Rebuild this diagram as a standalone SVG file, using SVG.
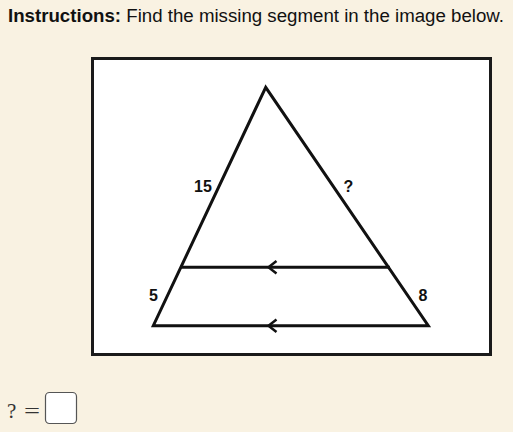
<svg xmlns="http://www.w3.org/2000/svg" width="513" height="432" viewBox="0 0 513 432">
<style>
.lbl{font-family:"Liberation Sans",Arial,sans-serif;font-weight:bold;font-size:16px;fill:#111;text-anchor:middle}
.ln{stroke:#111;stroke-width:3;fill:none;stroke-linecap:square}
.chev{stroke:#111;stroke-width:2.5;fill:none}
.mth{font-family:"Liberation Serif","Times New Roman",serif;fill:#333}
</style>
<rect width="513" height="432" fill="#f9f2e2"/>
<text x="8" y="22" font-family="'Liberation Sans',Arial,sans-serif" font-size="18" fill="#111" textLength="496" lengthAdjust="spacingAndGlyphs"><tspan font-weight="bold">Instructions:</tspan> Find the missing segment in the image below.</text>
<g id="frame">
<rect x="92.5" y="58.5" width="398" height="296" fill="#fff" stroke="#1a1a1a" stroke-width="3"/>
</g>
<g id="triangle">
<polygon points="265.7,87.3 153.3,325.7 428.3,325.7" class="ln" stroke-linejoin="miter"/>
</g>
<g id="connectors">
<line x1="181.7" y1="267.3" x2="388.3" y2="267.3" class="ln" stroke-linecap="butt"/>
<polyline points="276.5,261 268.5,267.3 276.5,273.6" class="chev"/>
<polyline points="276.5,319.4 268.5,325.7 276.5,332" class="chev"/>
</g>
<g id="labels">
<text class="lbl" x="203" y="192">15</text>
<text class="lbl" x="348.5" y="192">?</text>
<text class="lbl" x="153.5" y="300.5">5</text>
<text class="lbl" x="423" y="300.5">8</text>
</g>
<g id="answer">
<text class="mth" x="7" y="418" font-size="21">?</text>
<text class="mth" x="24" y="418" font-size="21" textLength="16" lengthAdjust="spacingAndGlyphs">=</text>
<rect x="45.5" y="392.5" width="31" height="31" rx="4" fill="#fff" stroke="#555" stroke-width="1.2"/>
</g>
</svg>
